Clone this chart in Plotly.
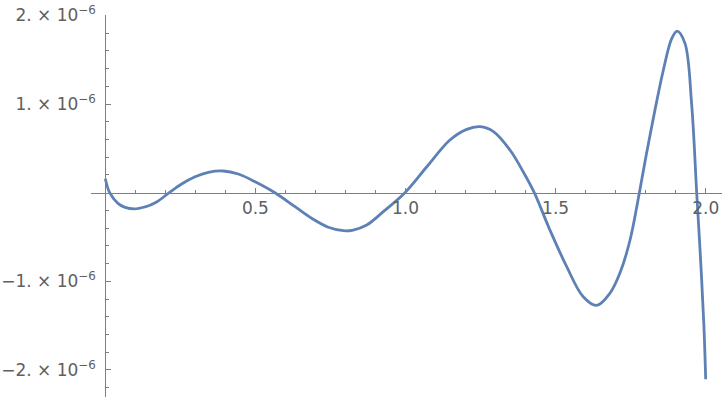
import plotly.graph_objects as go

# curve samples (y in units of 1e-6)
x_vals = [0.0, 0.0146, 0.042, 0.066, 0.098, 0.132, 0.153, 0.171, 0.213, 0.254, 0.299,
          0.343, 0.393, 0.443, 0.499, 0.565, 0.632, 0.687, 0.743, 0.793, 0.826,
          0.871, 0.926, 0.998, 1.071, 1.148, 1.204, 1.248, 1.293, 1.348, 1.392,
          1.429, 1.481, 1.537, 1.592, 1.637, 1.681, 1.714, 1.748, 1.779, 1.803,
          1.831, 1.859, 1.887, 1.905, 1.931, 1.953, 1.970, 1.983, 1.994, 2.0]
y_micro = [0.158, 0.0, -0.12, -0.165, -0.182, -0.160, -0.135, -0.105, 0.0, 0.098, 0.18,
           0.23, 0.245, 0.211, 0.124, 0.0, -0.158, -0.289, -0.39, -0.429, -0.421,
           -0.365, -0.214, 0.0, 0.293, 0.595, 0.715, 0.745, 0.69, 0.482, 0.237,
           0.0, -0.421, -0.835, -1.174, -1.272, -1.135, -0.91, -0.534, 0.0, 0.445,
           0.933, 1.385, 1.743, 1.825, 1.686, 1.009, 0.0, -0.76, -1.5, -2.106]
y_vals = [v * 1e-6 for v in y_micro]

x_tickvals = [0.5, 1.0, 1.5, 2.0]
x_ticktext = ["0.5", "1.0", "1.5", "2.0"]
x_minor = [0.1, 0.2, 0.3, 0.4, 0.6, 0.7, 0.8, 0.9, 1.1, 1.2, 1.3, 1.4,
           1.6, 1.7, 1.8, 1.9]
y_tickvals = [-2e-6, -1e-6, 1e-6, 2e-6]
y_ticktext = ["\u22122. \u00d7 10<sup>\u22126</sup>",
              "\u22121. \u00d7 10<sup>\u22126</sup>",
              "1. \u00d7 10<sup>\u22126</sup>",
              "2. \u00d7 10<sup>\u22126</sup>"]
y_minor = [k * 0.2e-6 for k in range(-11, 11) if k % 5 != 0]

x_range = [-0.0477, 2.0543]
y_range = [-2.306e-6, 2.006e-6]

fig = go.Figure()
fig.add_trace(go.Scatter(x=x_vals, y=y_vals, mode="lines",
                         line=dict(color="#5E81B5", width=2.8, shape="spline", smoothing=1.0),
                         hoverinfo="skip", showlegend=False))

axis_col = "#7f7f7f"
label_font = dict(family="DejaVu Sans, Liberation Sans, sans-serif", size=17, color="#606060")

fig.update_layout(
    width=722, height=400,
    margin=dict(l=91, r=0, t=15, b=3),
    paper_bgcolor="white", plot_bgcolor="white",
    xaxis=dict(range=x_range, showgrid=False, zeroline=False,
               showline=True, linecolor=axis_col, linewidth=1,
               anchor="free", position=(0 - y_range[0]) / (y_range[1] - y_range[0]),
               tickmode="array", tickvals=x_tickvals, ticktext=x_ticktext,
               ticks="inside", ticklen=5, tickcolor=axis_col, tickwidth=1,
               tickfont=label_font, ticklabeloverflow="allow",
               minor=dict(tickmode="array", tickvals=x_minor, ticks="inside",
                          ticklen=3, tickcolor=axis_col, tickwidth=1)),
    yaxis=dict(range=y_range, showgrid=False, zeroline=False,
               showline=True, linecolor=axis_col, linewidth=1,
               anchor="free", position=(0 - x_range[0]) / (x_range[1] - x_range[0]),
               tickmode="array", tickvals=y_tickvals, ticktext=y_ticktext,
               ticks="inside", ticklen=5, tickcolor=axis_col, tickwidth=1,
               tickfont=label_font, ticklabeloverflow="allow", ticklabelstandoff=6,
               minor=dict(tickmode="array", tickvals=y_minor, ticks="inside",
                          ticklen=3, tickcolor=axis_col, tickwidth=1)),
)

fig.write_html("out.html",
               config={"displayModeBar": False},
               post_script="document.body.style.margin='0';document.body.style.overflow='hidden';")
